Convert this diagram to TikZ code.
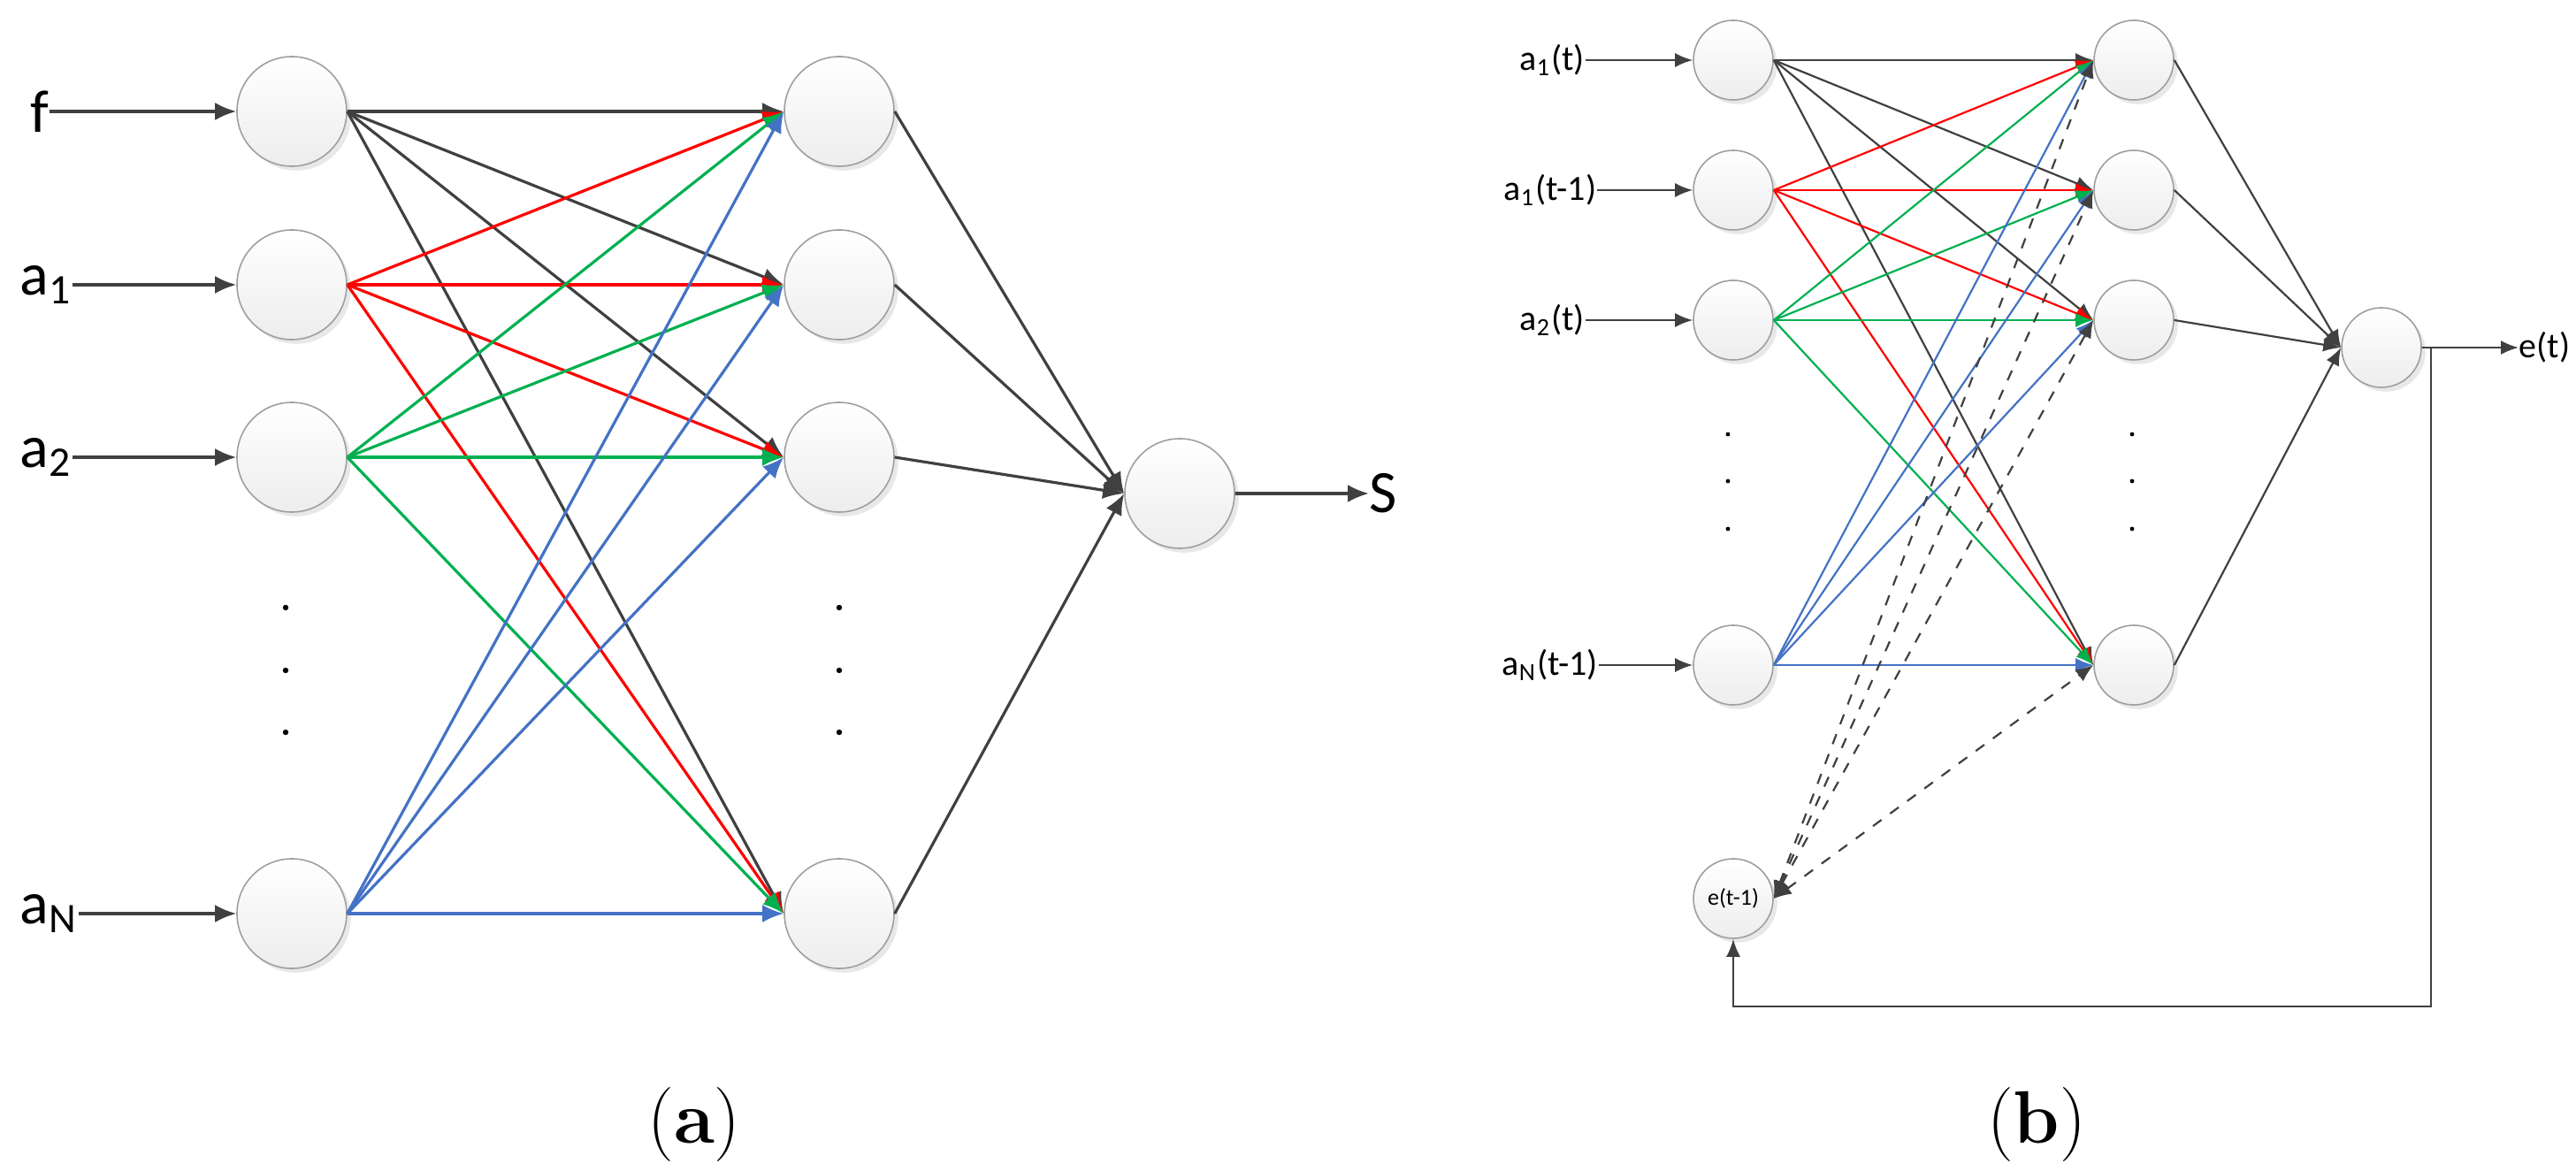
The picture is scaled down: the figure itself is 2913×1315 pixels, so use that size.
\documentclass[tikz,border=0pt]{standalone}
\usepackage{fontspec}
\newfontfamily\lab{Carlito}
\usetikzlibrary{arrows.meta,shadows}
\definecolor{dk}{HTML}{404040}
\definecolor{rd}{HTML}{FF0000}
\definecolor{gn}{HTML}{00B050}
\definecolor{bl}{HTML}{4472C4}
\begin{document}
\begin{tikzpicture}[x=0.25pt,y=-0.25pt,
  neu/.style={circle,draw=gray!75,line width=0.4pt,top color=white,bottom color=gray!14,
     drop shadow={shadow xshift=1.2pt,shadow yshift=-1.2pt,fill=gray!30,opacity=0.6},inner sep=0pt},
  na/.style={neu,minimum size=31pt},
  nb/.style={neu,minimum size=22.5pt},
  ea/.style={line width=0.8pt,-{Latex[length=6pt,width=5pt]}},
  eb/.style={line width=0.55pt,-{Latex[length=5pt,width=4pt]}},
  txa/.style={font=\lab\fontsize{17}{17}\selectfont,inner sep=0pt},
  txb/.style={font=\lab\fontsize{10}{10}\selectfont,inner sep=0pt},
  dot/.style={circle,fill=black,inner sep=0pt,minimum size=1.6pt}]
\useasboundingbox (0,0) rectangle (2913,1315);
% ---------- (a)
\foreach \n/\y in {1/126,2/322,3/517,4/1033}{
  \node[na] (ia\n) at (330,\y) {};
  \node[na] (ha\n) at (949,\y) {};
}
\node[na] (oa) at (1334,558) {};
\node[txa,anchor=west] (lf) at (34,126) {f};
\node[txa,anchor=west] (l1) at (22,322) {a\textsubscript{1}};
\node[txa,anchor=west] (l2) at (22,517) {a\textsubscript{2}};
\node[txa,anchor=west] (l4) at (22,1033) {a\textsubscript{N}};
\foreach \l/\n in {lf/1,l1/2,l2/3,l4/4}\draw[ea,dk] (\l.east) -- (ia\n);
\node[txa,anchor=west] (S) at (1548,558) {S};
\draw[ea,dk] (oa) -- (S);
\foreach \n/\c in {1/dk,2/rd,3/gn,4/bl}{
  \foreach \m in {1,2,3,4}\draw[ea,\c] (ia\n.east) -- (ha\m.west);
}
\foreach \m in {1,2,3,4}\draw[ea,dk] (ha\m.east) -- (oa.west);
\foreach \y [count=\i] in {687,758,828}{
  \node[dot] (da\i) at (323,\y) {};
  \node[dot] (db\i) at (949,\y) {};
}
\node[font=\fontsize{21}{21}\selectfont] (capa) at (785,1272) {(\textbf{a})};
% ---------- (b)
\foreach \n/\y in {1/68,2/215,3/362,4/752}{
  \node[nb] (ib\n) at (1960,\y) {};
  \node[nb] (hb\n) at (2413,\y) {};
}
\node[nb] (eb) at (1960,1016) {\lab\fontsize{6.5}{6.5}\selectfont e(t-1)};
\node[nb] (ob) at (2693,393) {};
\node[txb,anchor=west] (m1) at (1718,68) {a\textsubscript{1}(t)};
\node[txb,anchor=west] (m2) at (1700,215) {a\textsubscript{1}(t-1)};
\node[txb,anchor=west] (m3) at (1718,362) {a\textsubscript{2}(t)};
\node[txb,anchor=west] (m4) at (1698,752) {a\textsubscript{N}(t-1)};
\foreach \l/\n in {m1/1,m2/2,m3/3,m4/4}\draw[eb,dk] (\l.east) -- (ib\n);
\foreach \n/\c in {1/dk,2/rd,3/gn,4/bl}{
  \foreach \m in {1,2,3,4}\draw[eb,\c] (ib\n.east) -- (hb\m.west);
}
\foreach \m in {1,2,3,4}\draw[eb,dk,dashed,{Latex[length=5pt,width=4pt]}-{Latex[length=5pt,width=4pt]}] (eb.east) -- (hb\m.west);
\foreach \m in {1,2,3,4}\draw[eb,dk] (hb\m.east) -- (ob.west);
\node[txb,anchor=west] (et) at (2848,393) {e(t)};
\draw[eb,dk] (ob.east) -- (et.west);
\coordinate (c1) at (2749,393);
\coordinate (c2) at (2749,1138);
\coordinate (c3) at (1960,1138);
\draw[eb,dk] (c1) -- (c2) -- (c3) -- (eb.south);
\foreach \y [count=\i] in {491,544,598}{
  \node[dot,minimum size=1.2pt] (dc\i) at (1954,\y) {};
  \node[dot,minimum size=1.2pt] (dd\i) at (2411,\y) {};
}
\node[font=\fontsize{21}{21}\selectfont] (capb) at (2303,1272) {(\textbf{b})};
\end{tikzpicture}
\end{document}
